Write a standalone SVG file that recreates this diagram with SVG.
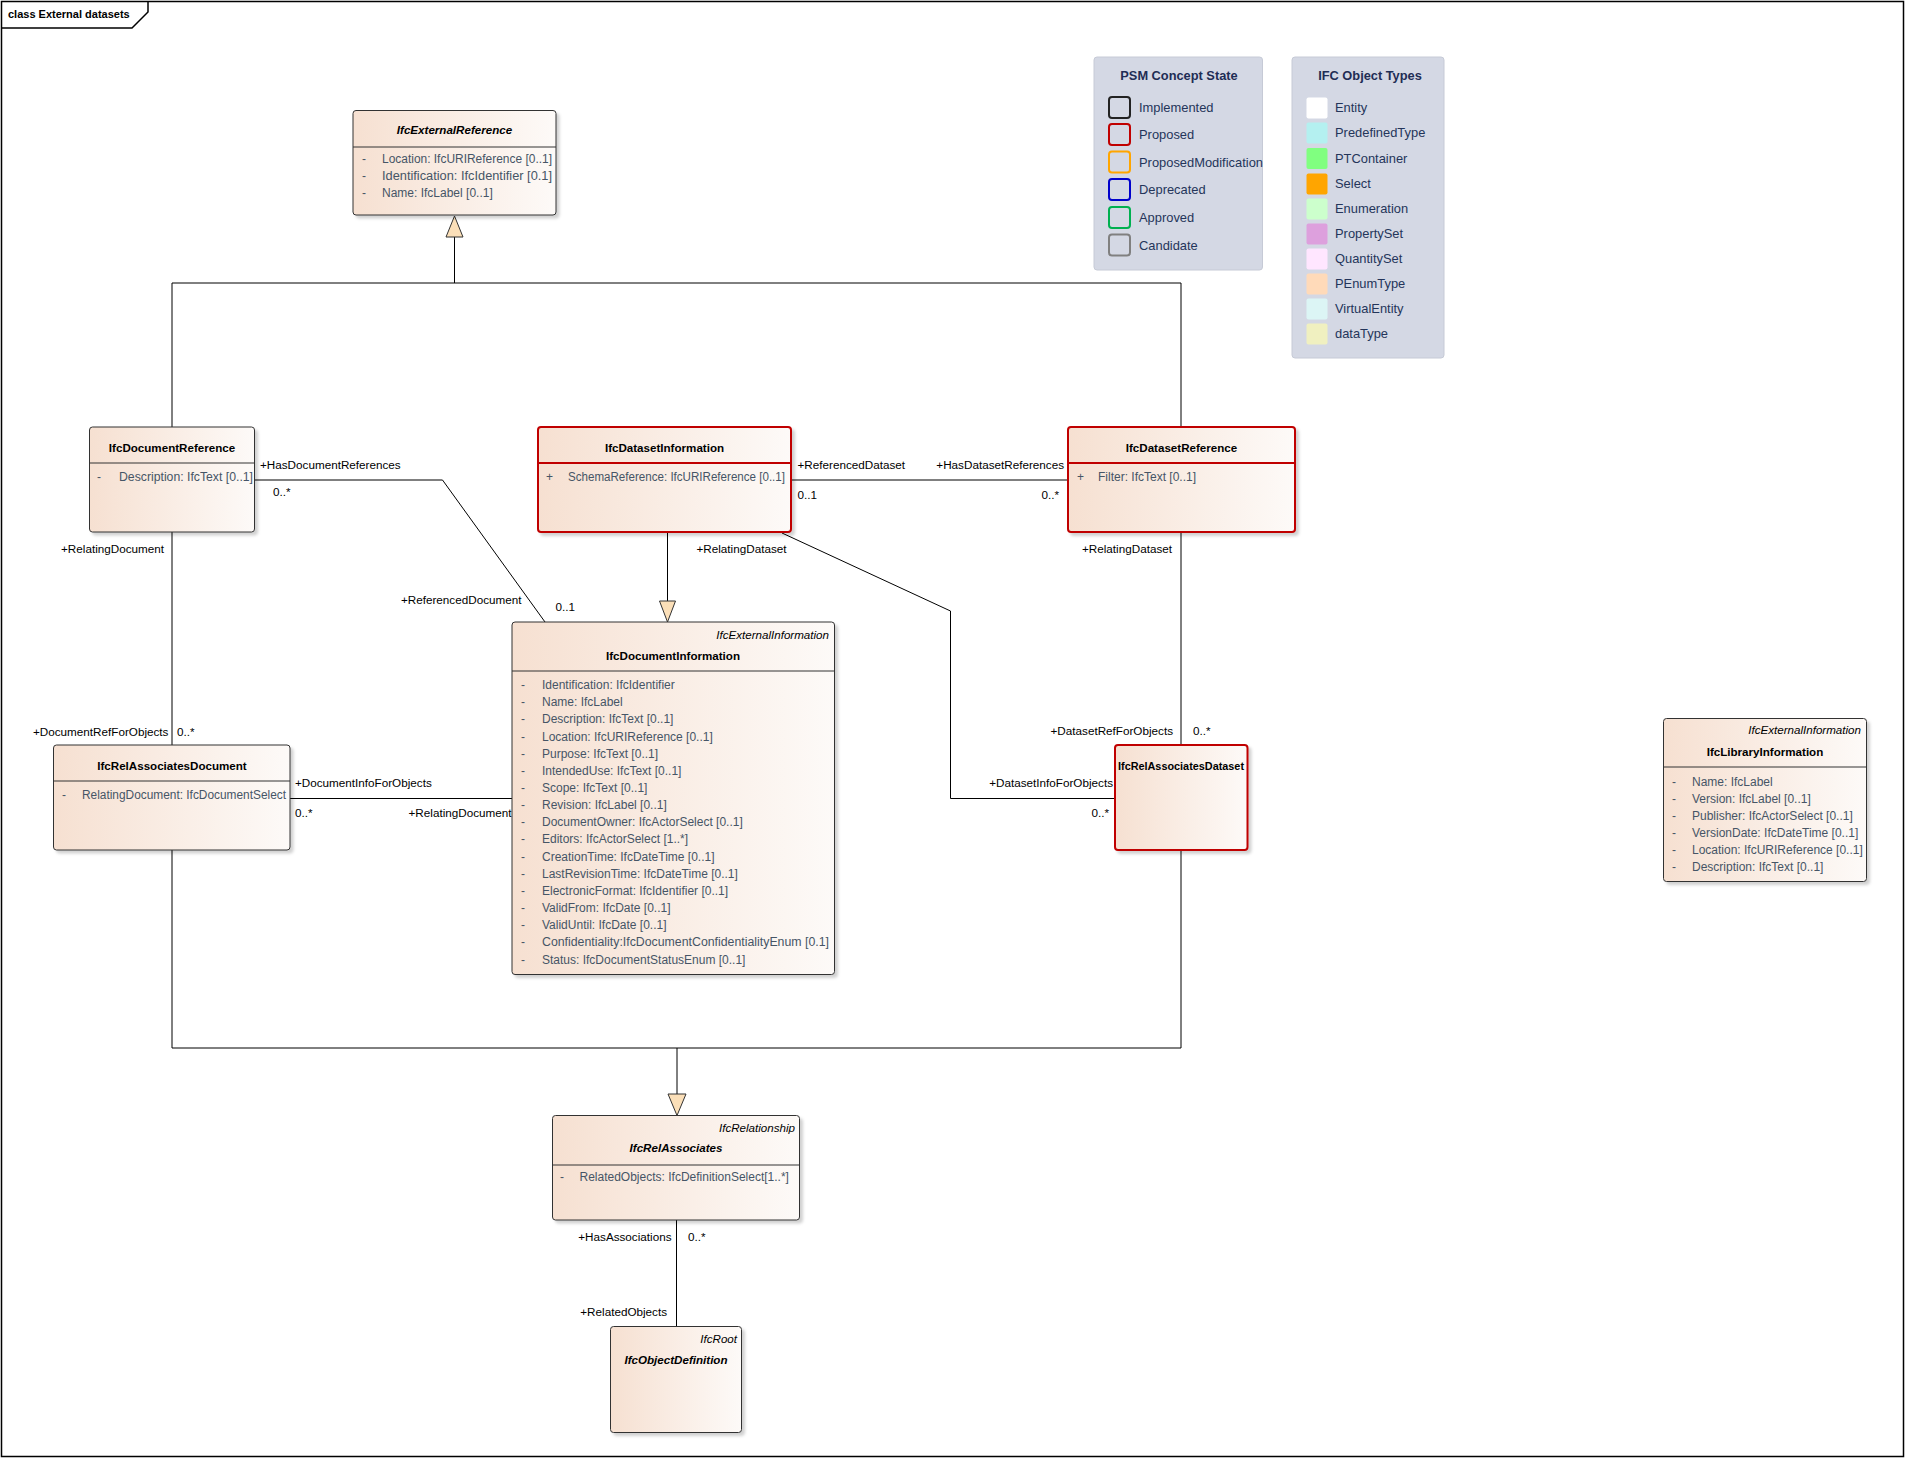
<svg xmlns="http://www.w3.org/2000/svg" width="1906" height="1459" viewBox="0 0 1906 1459">
<style>
text{font-family:"Liberation Sans",Arial,sans-serif;font-size:11.7px;fill:#000}
.frame{fill:none;stroke:#000;stroke-width:1.5}
.node{fill:url(#ng);stroke:#333;stroke-width:1;filter:url(#sh)}
.prop{fill:url(#ng);stroke:#c00000;stroke-width:2;filter:url(#sh)}
.sep{stroke:#333;stroke-width:1}
.sepr{stroke:#c00000;stroke-width:2}
.t{font-size:11.6px;font-weight:bold;text-anchor:middle}
.ti{font-size:11.6px;font-weight:bold;font-style:italic;text-anchor:middle}
.st{font-size:11.6px;font-style:italic;text-anchor:end}
.a{font-size:12px;fill:#465566}
.e{text-anchor:end}
.conn{fill:none;stroke:#000;stroke-width:1}
.gen{fill:#fbdfb8;stroke:#333;stroke-width:1}
.leg{fill:#d4d8e4;stroke:#c6cad6;stroke-width:1}
.lt{font-size:12.8px;font-weight:bold;fill:#1f2d55;text-anchor:middle}
.li{font-size:12.9px;fill:#24355a}
.sq{fill:#d4d8e4;stroke-width:2}
</style>
<defs>
<linearGradient id="ng" x1="0" y1="0" x2="1" y2="0">
<stop offset="0" stop-color="#f6e0d1"/>
<stop offset="1" stop-color="#fdfaf8"/>
</linearGradient>
<filter id="sh" x="-5%" y="-5%" width="115%" height="115%">
<feDropShadow dx="3" dy="3" stdDeviation="1.5" flood-color="#000" flood-opacity="0.18"/>
</filter>
</defs>
<rect x="0" y="0" width="1906" height="1459" fill="#fff"/>
<rect class="frame" x="1.5" y="1.5" width="1902" height="1455"/>
<path class="frame" d="M1.5,28 H132 L148,12 V1.5"/>
<text x="8" y="18" style="font-weight:bold;font-size:11px">class External datasets</text>

<g id="legend-psm">
<rect class="leg" x="1094" y="57" width="168.5" height="213" rx="3"/>
<text class="lt" x="1179" y="80">PSM Concept State</text>
<rect class="sq" x="1109" y="97" width="21" height="21" rx="3" stroke="#222"/>
<text class="li" x="1139" y="112">Implemented</text>
<rect class="sq" x="1109" y="124" width="21" height="21" rx="3" stroke="#c00000"/>
<text class="li" x="1139" y="139">Proposed</text>
<rect class="sq" x="1109" y="151.5" width="21" height="21" rx="3" stroke="#ffa500"/>
<text class="li" x="1139" y="166.5">ProposedModification</text>
<rect class="sq" x="1109" y="179" width="21" height="21" rx="3" stroke="#0000cc"/>
<text class="li" x="1139" y="194">Deprecated</text>
<rect class="sq" x="1109" y="207" width="21" height="21" rx="3" stroke="#00b050"/>
<text class="li" x="1139" y="222">Approved</text>
<rect class="sq" x="1109" y="234.5" width="21" height="21" rx="3" stroke="#808080"/>
<text class="li" x="1139" y="249.5">Candidate</text>
</g>

<g id="legend-ifc">
<rect class="leg" x="1292" y="57" width="152" height="301" rx="3"/>
<text class="lt" x="1370" y="80">IFC Object Types</text>
<rect x="1306.5" y="97.5" width="21" height="21" rx="2" fill="#ffffff"/>
<text class="li" x="1335" y="112">Entity</text>
<rect x="1306.5" y="122.5" width="21" height="21" rx="2" fill="#b4f0f0"/>
<text class="li" x="1335" y="137">PredefinedType</text>
<rect x="1306.5" y="148" width="21" height="21" rx="2" fill="#80ff80"/>
<text class="li" x="1335" y="162.5">PTContainer</text>
<rect x="1306.5" y="173.5" width="21" height="21" rx="2" fill="#ffa500"/>
<text class="li" x="1335" y="188">Select</text>
<rect x="1306.5" y="198.5" width="21" height="21" rx="2" fill="#ccffcc"/>
<text class="li" x="1335" y="213">Enumeration</text>
<rect x="1306.5" y="223.5" width="21" height="21" rx="2" fill="#dda0dd"/>
<text class="li" x="1335" y="238">PropertySet</text>
<rect x="1306.5" y="248.5" width="21" height="21" rx="2" fill="#ffe6ff"/>
<text class="li" x="1335" y="263">QuantitySet</text>
<rect x="1306.5" y="273.5" width="21" height="21" rx="2" fill="#ffdab9"/>
<text class="li" x="1335" y="288">PEnumType</text>
<rect x="1306.5" y="298.5" width="21" height="21" rx="2" fill="#dcf5f5"/>
<text class="li" x="1335" y="313">VirtualEntity</text>
<rect x="1306.5" y="323.5" width="21" height="21" rx="2" fill="#f0f0c0"/>
<text class="li" x="1335" y="338">dataType</text>
</g>

<g id="connectors">
<polyline class="conn" points="454.5,237 454.5,283"/>
<polyline class="conn" points="172,427 172,283 1181,283 1181,427"/>
<polygon class="gen" points="454.5,216 446,237 463,237"/>
<polyline class="conn" points="254.5,480 442.5,480 545,622"/>
<polyline class="conn" points="667.5,532 667.5,601"/>
<polygon class="gen" points="667.5,622 659.5,601 675.5,601"/>
<polyline class="conn" points="791,480 1068,480"/>
<polyline class="conn" points="782,533 950.5,611 950.5,798.5 1115,798.5"/>
<polyline class="conn" points="172,532 172,745"/>
<polyline class="conn" points="1181,532 1181,745"/>
<polyline class="conn" points="172,850 172,1048 1181,1048 1181,850"/>
<polyline class="conn" points="677,1048 677,1094"/>
<polygon class="gen" points="677,1115.5 668,1094 686,1094"/>
<polyline class="conn" points="290,798.5 512,798.5"/>
<polyline class="conn" points="676.5,1220 676.5,1326.5"/>
<text x="260" y="468.5">+HasDocumentReferences</text>
<text x="273" y="495.5">0..*</text>
<text class="e" x="164" y="553">+RelatingDocument</text>
<text class="e" x="521.5" y="603.5">+ReferencedDocument</text>
<text x="555.5" y="611">0..1</text>
<text x="797.5" y="469">+ReferencedDataset</text>
<text class="e" x="1064" y="469">+HasDatasetReferences</text>
<text x="797.5" y="499">0..1</text>
<text class="e" x="1059" y="499">0..*</text>
<text x="696.5" y="553">+RelatingDataset</text>
<text x="1082" y="553">+RelatingDataset</text>
<text x="33" y="735.5">+DocumentRefForObjects</text>
<text x="177" y="735.5">0..*</text>
<text x="295" y="787">+DocumentInfoForObjects</text>
<text x="295" y="817">0..*</text>
<text class="e" x="511.5" y="817">+RelatingDocument</text>
<text class="e" x="1173" y="734.5">+DatasetRefForObjects</text>
<text x="1193" y="734.5">0..*</text>
<text class="e" x="1113" y="787">+DatasetInfoForObjects</text>
<text class="e" x="1109" y="817">0..*</text>
<text class="e" x="671.5" y="1241">+HasAssociations</text>
<text x="688" y="1241">0..*</text>
<text class="e" x="667" y="1316">+RelatedObjects</text>
</g>

<g id="IfcExternalReference">
<rect class="node" x="353" y="110.5" width="203" height="104.5" rx="3"/>
<line class="sep" x1="353" y1="147" x2="556" y2="147"/>
<text class="ti" x="454.5" y="134">IfcExternalReference</text>
<text class="a" x="362" y="163">-</text><text class="a" x="382" y="163" textLength="170" lengthAdjust="spacingAndGlyphs">Location: IfcURIReference [0..1]</text>
<text class="a" x="362" y="180">-</text><text class="a" x="382" y="180" textLength="170" lengthAdjust="spacingAndGlyphs">Identification: IfcIdentifier [0.1]</text>
<text class="a" x="362" y="197">-</text><text class="a" x="382" y="197">Name: IfcLabel [0..1]</text>
</g>

<g id="IfcDocumentReference">
<rect class="node" x="89.5" y="427" width="165" height="105" rx="3"/>
<line class="sep" x1="89.5" y1="463" x2="254.5" y2="463"/>
<text class="t" x="172" y="452">IfcDocumentReference</text>
<text class="a" x="97" y="481">-</text><text class="a" x="119" y="481" textLength="134" lengthAdjust="spacingAndGlyphs">Description: IfcText [0..1]</text>
</g>

<g id="IfcDatasetInformation">
<rect class="prop" x="538" y="427" width="253" height="105" rx="3"/>
<line class="sepr" x1="538" y1="463" x2="791" y2="463"/>
<text class="t" x="664.5" y="452">IfcDatasetInformation</text>
<text class="a" x="546" y="481">+</text><text class="a" x="568" y="481" textLength="217" lengthAdjust="spacingAndGlyphs">SchemaReference: IfcURIReference [0..1]</text>
</g>

<g id="IfcDatasetReference">
<rect class="prop" x="1068" y="427" width="227" height="105" rx="3"/>
<line class="sepr" x1="1068" y1="463" x2="1295" y2="463"/>
<text class="t" x="1181.5" y="452">IfcDatasetReference</text>
<text class="a" x="1077" y="481">+</text><text class="a" x="1098" y="481">Filter: IfcText [0..1]</text>
</g>

<g id="IfcDocumentInformation">
<rect class="node" x="512" y="622" width="322.5" height="352.5" rx="3"/>
<line class="sep" x1="512" y1="671" x2="834.5" y2="671"/>
<text class="st" x="829" y="639">IfcExternalInformation</text>
<text class="t" x="673" y="660">IfcDocumentInformation</text>
<text class="a" x="521" y="689">-</text><text class="a" x="542" y="689">Identification: IfcIdentifier</text>
<text class="a" x="521" y="706.2">-</text><text class="a" x="542" y="706.2">Name: IfcLabel</text>
<text class="a" x="521" y="723.3">-</text><text class="a" x="542" y="723.3">Description: IfcText [0..1]</text>
<text class="a" x="521" y="740.5">-</text><text class="a" x="542" y="740.5">Location: IfcURIReference [0..1]</text>
<text class="a" x="521" y="757.6">-</text><text class="a" x="542" y="757.6">Purpose: IfcText [0..1]</text>
<text class="a" x="521" y="774.8">-</text><text class="a" x="542" y="774.8">IntendedUse: IfcText [0..1]</text>
<text class="a" x="521" y="792">-</text><text class="a" x="542" y="792">Scope: IfcText [0..1]</text>
<text class="a" x="521" y="809.1">-</text><text class="a" x="542" y="809.1">Revision: IfcLabel [0..1]</text>
<text class="a" x="521" y="826.3">-</text><text class="a" x="542" y="826.3">DocumentOwner: IfcActorSelect [0..1]</text>
<text class="a" x="521" y="843.4">-</text><text class="a" x="542" y="843.4">Editors: IfcActorSelect [1..*]</text>
<text class="a" x="521" y="860.6">-</text><text class="a" x="542" y="860.6">CreationTime: IfcDateTime [0..1]</text>
<text class="a" x="521" y="877.8">-</text><text class="a" x="542" y="877.8">LastRevisionTime: IfcDateTime [0..1]</text>
<text class="a" x="521" y="894.9">-</text><text class="a" x="542" y="894.9">ElectronicFormat: IfcIdentifier [0..1]</text>
<text class="a" x="521" y="912.1">-</text><text class="a" x="542" y="912.1">ValidFrom: IfcDate [0..1]</text>
<text class="a" x="521" y="929.2">-</text><text class="a" x="542" y="929.2">ValidUntil: IfcDate [0..1]</text>
<text class="a" x="521" y="946.4">-</text><text class="a" x="542" y="946.4" textLength="287" lengthAdjust="spacingAndGlyphs">Confidentiality:IfcDocumentConfidentialityEnum [0.1]</text>
<text class="a" x="521" y="963.6">-</text><text class="a" x="542" y="963.6">Status: IfcDocumentStatusEnum [0..1]</text>
</g>

<g id="IfcRelAssociatesDocument">
<rect class="node" x="53.5" y="745" width="236.5" height="105" rx="3"/>
<line class="sep" x1="53.5" y1="781" x2="290" y2="781"/>
<text class="t" x="172" y="769.5">IfcRelAssociatesDocument</text>
<text class="a" x="62" y="799">-</text><text class="a" x="82" y="799" textLength="204" lengthAdjust="spacingAndGlyphs">RelatingDocument: IfcDocumentSelect</text>
</g>

<g id="IfcRelAssociatesDataset">
<rect class="prop" x="1115" y="745" width="132.5" height="105" rx="3"/>
<text class="t" x="1181" y="769.5" textLength="126" lengthAdjust="spacingAndGlyphs">IfcRelAssociatesDataset</text>
</g>

<g id="IfcLibraryInformation">
<rect class="node" x="1663.5" y="718.5" width="203" height="163" rx="3"/>
<line class="sep" x1="1663.5" y1="767" x2="1866.5" y2="767"/>
<text class="st" x="1861" y="734">IfcExternalInformation</text>
<text class="t" x="1765" y="756">IfcLibraryInformation</text>
<text class="a" x="1672" y="785.5">-</text><text class="a" x="1692" y="785.5">Name: IfcLabel</text>
<text class="a" x="1672" y="802.6">-</text><text class="a" x="1692" y="802.6">Version: IfcLabel [0..1]</text>
<text class="a" x="1672" y="819.7">-</text><text class="a" x="1692" y="819.7">Publisher: IfcActorSelect [0..1]</text>
<text class="a" x="1672" y="836.8">-</text><text class="a" x="1692" y="836.8">VersionDate: IfcDateTime [0..1]</text>
<text class="a" x="1672" y="853.9">-</text><text class="a" x="1692" y="853.9">Location: IfcURIReference [0..1]</text>
<text class="a" x="1672" y="871">-</text><text class="a" x="1692" y="871">Description: IfcText [0..1]</text>
</g>

<g id="IfcRelAssociates">
<rect class="node" x="552.5" y="1115.5" width="247" height="104.5" rx="3"/>
<line class="sep" x1="552.5" y1="1165" x2="799.5" y2="1165"/>
<text class="st" x="795" y="1131.5">IfcRelationship</text>
<text class="ti" x="676" y="1151.5">IfcRelAssociates</text>
<text class="a" x="560" y="1181">-</text><text class="a" x="579.5" y="1181">RelatedObjects: IfcDefinitionSelect[1..*]</text>
</g>

<g id="IfcObjectDefinition">
<rect class="node" x="610.5" y="1326.5" width="131" height="106" rx="3"/>
<text class="st" x="737" y="1343">IfcRoot</text>
<text class="ti" x="676" y="1364">IfcObjectDefinition</text>
</g>
</svg>
